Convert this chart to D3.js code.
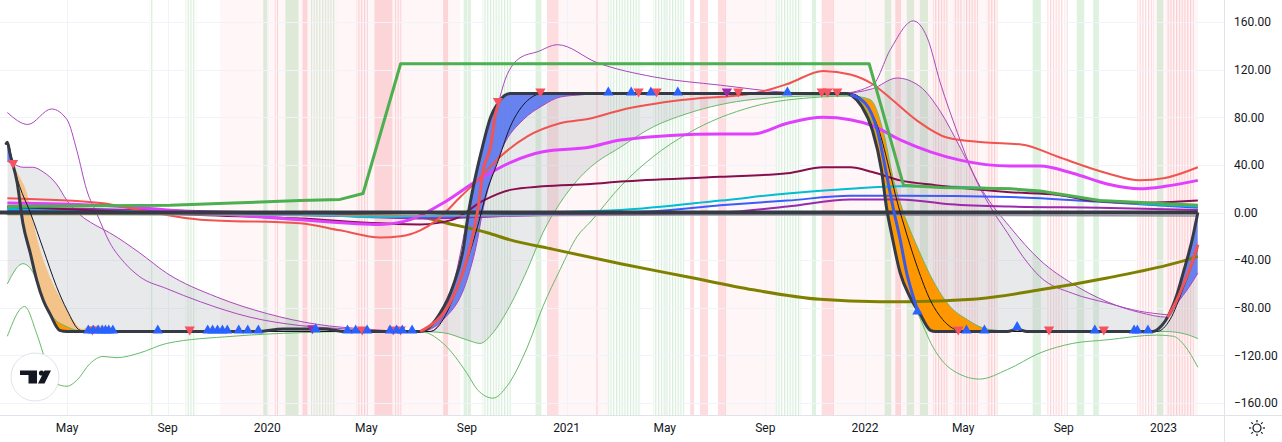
<!DOCTYPE html>
<html lang="en">
<head>
<meta charset="UTF-8">
<title>Oscillator</title>
<script src="https://d3js.org/d3.v7.min.js"></script>
<style>
  html, body { margin: 0; padding: 0; background: #fff; overflow: hidden; }
  svg { display: block; font-family: Roboto, "Liberation Sans", sans-serif; }
</style>
</head>
<body>
<div id="chart"></div>
<script>
// ---------- data ----------
const yTicks = [160, 120, 80, 40, 0, -40, -80, -120, -160];

const timeTicks = [
  ['2019-05-01', 'May'], ['2019-09-01', 'Sep'], ['2020-01-01', '2020'],
  ['2020-05-01', 'May'], ['2020-09-01', 'Sep'], ['2021-01-01', '2021'],
  ['2021-05-01', 'May'], ['2021-09-01', 'Sep'], ['2022-01-01', '2022'],
  ['2022-05-01', 'May'], ['2022-09-01', 'Sep'], ['2023-01-01', '2023']
];

// background bar colouring: [from, to, kind]
// R strong red, r red hairlines, G strong green, g green hairlines, p faint pink
const stripeBands = [
  ['2019-08-10', '2019-08-15', 'g'], ['2019-09-23', '2019-10-06', 'g'],
  ['2019-11-04', '2020-08-24', 'p'], ['2019-12-27', '2020-01-02', 'G'],
  ['2020-01-10', '2020-01-14', 'r'], ['2020-01-23', '2020-02-08', 'G'],
  ['2020-02-13', '2020-02-19', 'R'], ['2020-02-23', '2020-03-25', 'g'],
  ['2020-04-19', '2020-05-03', 'r'], ['2020-05-11', '2020-06-02', 'R'],
  ['2020-06-04', '2020-06-13', 'r'], ['2020-08-03', '2020-08-09', 'R'],
  ['2020-08-28', '2020-09-06', 'G'], ['2020-09-20', '2020-10-25', 'g'],
  ['2020-11-24', '2020-12-01', 'G'], ['2020-12-08', '2020-12-22', 'R'],
  ['2020-12-22', '2021-02-20', 'p'], ['2021-02-06', '2021-02-09', 'r'],
  ['2021-02-20', '2021-04-02', 'g'], ['2021-04-17', '2021-05-25', 'g'],
  ['2021-06-01', '2021-06-06', 'R'], ['2021-06-13', '2021-06-23', 'R'],
  ['2021-07-05', '2021-07-15', 'R'], ['2021-07-14', '2021-09-13', 'p'],
  ['2021-09-13', '2021-10-15', 'g'], ['2021-10-28', '2021-11-02', 'G'],
  ['2021-11-09', '2021-11-24', 'R'], ['2021-11-23', '2022-06-12', 'p'],
  ['2022-01-25', '2022-02-02', 'G'], ['2022-02-07', '2022-02-14', 'R'],
  ['2022-02-21', '2022-03-02', 'G'], ['2022-03-09', '2022-03-19', 'G'],
  ['2022-03-25', '2022-04-12', 'r'], ['2022-04-19', '2022-05-19', 'r'],
  ['2022-05-30', '2022-06-12', 'r'], ['2022-07-25', '2022-08-04', 'G'],
  ['2022-08-12', '2022-09-06', 'r'], ['2022-09-17', '2022-09-26', 'G'],
  ['2022-10-07', '2022-10-14', 'G'], ['2022-11-30', '2022-12-20', 'r'],
  ['2022-12-19', '2023-02-12', 'p'], ['2022-12-24', '2023-01-01', 'G'],
  ['2023-01-05', '2023-02-07', 'r']
];

const mainLine = [
  ['2019-02-15', 57], ['2019-02-17', 59], ['2019-02-20', 50], ['2019-03-01', 25], ['2019-03-08', -9],
  ['2019-03-17', -34], ['2019-03-25', -57], ['2019-04-02', -74], ['2019-04-10', -85], ['2019-04-22', -99],
  ['2019-05-01', -100], ['2019-12-20', -100], ['2020-01-20', -98], ['2020-03-10', -98], ['2020-04-05', -100],
  ['2020-07-06', -100], ['2020-07-30', -85], ['2020-08-15', -62], ['2020-08-28', -29], ['2020-09-03', 0],
  ['2020-09-09', 22], ['2020-09-20', 55], ['2020-09-30', 80], ['2020-10-09', 92], ['2020-10-24', 100],
  ['2021-12-10', 100], ['2021-12-16', 98], ['2021-12-28', 89], ['2022-01-10', 69], ['2022-01-21', 36],
  ['2022-01-27', 5], ['2022-02-03', -20], ['2022-02-13', -51], ['2022-02-25', -71], ['2022-03-09', -85],
  ['2022-03-22', -99], ['2022-03-28', -100], ['2022-06-24', -100], ['2022-07-06', -98], ['2022-07-18', -100],
  ['2022-12-19', -100], ['2022-12-27', -97], ['2023-01-09', -84], ['2023-01-17', -70], ['2023-01-25', -51],
  ['2023-02-05', -23], ['2023-02-12', 0]
];

const fastLine = [
  ['2019-02-15', 57], ['2019-02-17', 59], ['2019-02-24', 40], ['2019-03-04', 22], ['2019-03-17', 0],
  ['2019-04-02', -31], ['2019-04-18', -62], ['2019-05-01', -82], ['2019-05-17', -99], ['2019-05-29', -100],
  ['2020-07-18', -100], ['2020-08-24', -57], ['2020-09-14', -12], ['2020-09-26', 19], ['2020-10-08', 41],
  ['2020-10-24', 72], ['2020-11-14', 94], ['2020-12-03', 100], ['2021-12-14', 100], ['2022-01-13', 78],
  ['2022-02-13', 0], ['2022-03-06', -46], ['2022-03-22', -74], ['2022-04-06', -90], ['2022-04-24', -99],
  ['2022-05-04', -100], ['2022-12-24', -100], ['2023-01-09', -90], ['2023-01-25', -64], ['2023-02-12', -30]
];

const riseSignal2020 = [
  ['2020-07-06', -100], ['2020-08-15', -71], ['2020-09-05', -29], ['2020-09-15', 5], ['2020-09-21', 36],
  ['2020-09-30', 55], ['2020-10-06', 83], ['2020-10-09', 90]
];
const riseSignal2023 = [
  ['2023-01-06', -88], ['2023-01-17', -74], ['2023-01-27', -58], ['2023-02-04', -44], ['2023-02-12', -27]
];
const fallSignal2022 = [
  ['2021-12-14', 99], ['2022-01-01', 92], ['2022-01-16', 69], ['2022-01-27', 33], ['2022-02-04', 5],
  ['2022-02-13', -23], ['2022-02-21', -51], ['2022-03-01', -71], ['2022-03-07', -84]
];

// 2019 lagging edge of the light orange fill
const tanEdge = [
  ['2019-02-24', 40], ['2019-03-04', 30], ['2019-03-13', 16], ['2019-03-20', -6], ['2019-03-29', -31],
  ['2019-04-10', -54], ['2019-04-26', -76], ['2019-05-08', -90], ['2019-05-20', -98], ['2019-05-26', -96],
  ['2019-06-10', -95], ['2019-06-25', -99], ['2019-07-05', -100]
];

// envelopes: outer upper, inner upper (purple), inner lower, outer lower (green)
const envOuterUp = [
  ['2019-02-17', 84], ['2019-03-14', 74], ['2019-04-12', 87], ['2019-05-01', 78], ['2019-05-13', 52],
  ['2019-05-25', 19], ['2019-06-07', -2], ['2019-06-22', -25], ['2019-07-10', -42], ['2019-07-29', -54],
  ['2019-08-31', -64], ['2019-10-11', -75], ['2019-12-11', -88], ['2020-02-10', -95], ['2020-04-11', -98],
  ['2020-06-12', -100], ['2020-07-18', -100], ['2020-08-15', -62], ['2020-09-03', 0], ['2020-09-30', 80],
  ['2020-10-09', 92], ['2020-10-18', 112], ['2020-11-05', 130], ['2020-11-26', 135], ['2020-12-21', 141],
  ['2021-02-07', 126], ['2021-04-17', 114], ['2021-07-08', 107], ['2021-09-28', 101], ['2021-12-01', 100],
  ['2022-01-10', 107], ['2022-02-01', 137], ['2022-03-01', 161], ['2022-03-18', 147], ['2022-04-03', 109],
  ['2022-04-24', 67], ['2022-05-13', 33], ['2022-06-03', 5], ['2022-06-24', -17], ['2022-07-13', -37],
  ['2022-08-03', -54], ['2022-09-12', -68], ['2022-10-24', -76], ['2022-12-03', -83], ['2023-01-06', -86]
];
const envInnerUp = [
  ['2019-02-17', 43], ['2019-02-24', 41], ['2019-03-08', 38], ['2019-03-20', 38], ['2019-04-02', 34],
  ['2019-04-18', 24], ['2019-05-01', 10], ['2019-05-17', -2], ['2019-06-03', -10], ['2019-06-22', -17],
  ['2019-07-29', -34], ['2019-08-31', -51], ['2019-10-31', -71], ['2020-01-01', -85], ['2020-03-02', -94],
  ['2020-05-02', -98], ['2020-06-24', -100], ['2020-07-06', -100], ['2020-08-03', -90], ['2020-09-01', -57],
  ['2020-09-14', -23], ['2020-09-20', 0], ['2020-09-30', 27], ['2020-10-15', 55], ['2020-11-09', 78],
  ['2020-12-03', 90], ['2020-12-24', 97], ['2021-01-21', 99], ['2021-02-11', 100], ['2021-12-01', 100],
  ['2022-01-10', 104], ['2022-02-09', 113], ['2022-03-09', 106], ['2022-04-03', 85], ['2022-04-27', 55],
  ['2022-05-25', 18], ['2022-06-27', -12], ['2022-08-03', -40], ['2022-09-12', -60], ['2022-10-24', -75],
  ['2022-12-03', -84], ['2023-01-06', -88], ['2023-01-17', -77], ['2023-02-02', -62], ['2023-02-12', -51]
];
const envInnerLow = [
  ['2019-02-17', -60], ['2019-03-08', -43], ['2019-03-25', -57], ['2019-04-02', -74], ['2019-04-14', -88],
  ['2019-05-01', -96], ['2019-05-13', -99], ['2019-05-29', -100], ['2020-07-06', -100], ['2020-08-03', -101],
  ['2020-09-01', -107], ['2020-09-17', -110], ['2020-10-03', -101], ['2020-10-20', -83], ['2020-11-14', -48],
  ['2020-12-03', -17], ['2020-12-24', 8], ['2021-01-14', 27], ['2021-01-30', 38], ['2021-03-08', 55],
  ['2021-04-17', 72], ['2021-05-28', 83], ['2021-08-17', 95], ['2021-11-07', 98], ['2021-12-14', 98],
  ['2022-01-07', 95], ['2022-01-23', 69], ['2022-02-04', 30], ['2022-02-17', 0], ['2022-03-06', -29],
  ['2022-03-25', -57], ['2022-04-15', -79], ['2022-05-06', -90], ['2022-05-25', -97], ['2022-06-11', -99],
  ['2022-06-27', -100], ['2023-01-03', -100], ['2023-01-27', -102], ['2023-02-12', -106]
];
const envOuterLow = [
  ['2019-02-17', -104], ['2019-03-10', -79], ['2019-03-25', -102], ['2019-04-06', -127], ['2019-04-18', -144],
  ['2019-05-01', -146], ['2019-05-13', -141], ['2019-05-29', -127], ['2019-06-14', -121], ['2019-07-01', -122],
  ['2019-07-29', -118], ['2019-08-31', -110], ['2019-11-20', -104], ['2020-02-10', -101], ['2020-04-11', -100],
  ['2020-07-06', -100], ['2020-08-03', -110], ['2020-09-01', -135], ['2020-09-14', -149], ['2020-10-03', -156],
  ['2020-10-20', -146], ['2020-11-14', -113], ['2020-12-03', -79], ['2020-12-24', -48], ['2021-01-14', -20],
  ['2021-01-30', -8], ['2021-03-08', 22], ['2021-04-17', 47], ['2021-05-28', 66], ['2021-08-17', 89],
  ['2021-11-07', 97], ['2021-12-14', 98], ['2022-01-07', 80], ['2022-01-21', 38], ['2022-02-03', -18],
  ['2022-02-13', -50], ['2022-02-25', -71], ['2022-03-06', -84], ['2022-03-25', -113], ['2022-04-15', -131],
  ['2022-05-21', -140], ['2022-06-24', -132], ['2022-08-03', -118], ['2022-09-12', -110], ['2022-10-24', -107],
  ['2022-12-24', -103], ['2023-01-13', -104], ['2023-01-27', -112], ['2023-02-12', -130]
];

const redLine = [
  ['2019-02-17', 12], ['2019-06-11', 8], ['2019-07-29', 2], ['2019-10-11', -6], ['2020-02-10', -9],
  ['2020-03-30', -15], ['2020-05-18', -21], ['2020-06-12', -20], ['2020-07-06', -15], ['2020-07-27', -6],
  ['2020-08-24', 13], ['2020-09-14', 27], ['2020-10-12', 47], ['2020-11-14', 64], ['2020-12-24', 75],
  ['2021-01-30', 79], ['2021-03-08', 86], ['2021-05-28', 95], ['2021-08-17', 100], ['2021-09-28', 108],
  ['2021-11-11', 119], ['2021-12-14', 116], ['2022-01-10', 108], ['2022-02-01', 96], ['2022-03-06', 77],
  ['2022-04-11', 63], ['2022-05-25', 59], ['2022-07-13', 57], ['2022-08-24', 47], ['2022-10-24', 33],
  ['2022-12-03', 27], ['2023-01-03', 29], ['2023-02-12', 38]
];
const magentaLine = [
  ['2019-02-17', 8], ['2019-06-11', 6], ['2019-10-11', 0], ['2020-02-10', -6], ['2020-05-18', -10],
  ['2020-06-24', -6], ['2020-08-03', 8], ['2020-09-14', 27], ['2020-10-24', 42], ['2020-12-03', 51],
  ['2021-01-30', 55], ['2021-03-08', 61], ['2021-07-08', 66], ['2021-08-17', 66], ['2021-09-28', 75],
  ['2021-11-11', 80], ['2021-12-14', 78], ['2022-01-10', 73], ['2022-02-13', 61], ['2022-03-22', 51],
  ['2022-04-27', 44], ['2022-06-27', 39], ['2022-08-03', 39], ['2022-09-12', 33], ['2022-10-24', 24],
  ['2022-12-03', 20], ['2023-01-03', 22], ['2023-02-12', 27]
];
const maroonLine = [
  ['2019-02-17', 5], ['2019-10-11', -2], ['2020-02-10', -5], ['2020-05-18', -9], ['2020-07-06', -10],
  ['2020-08-15', -6], ['2020-09-21', 10], ['2020-10-24', 19], ['2020-12-03', 22], ['2021-01-30', 24],
  ['2021-03-08', 26], ['2021-07-08', 30], ['2021-09-28', 33], ['2021-11-11', 38], ['2021-12-14', 38],
  ['2022-01-10', 34], ['2022-02-13', 27], ['2022-03-28', 23], ['2022-06-27', 17], ['2022-08-24', 15],
  ['2022-10-03', 10], ['2022-12-03', 8], ['2023-02-12', 10]
];
const cyanLine = [
  ['2019-02-17', 3], ['2019-10-11', 0], ['2020-02-10', -1], ['2020-05-18', -4], ['2020-07-06', -3],
  ['2020-09-17', -1], ['2020-11-30', 0], ['2021-03-08', 2], ['2021-07-08', 10], ['2021-09-28', 16],
  ['2021-12-14', 20], ['2022-02-13', 22], ['2022-06-27', 20], ['2022-08-03', 17], ['2022-10-15', 10],
  ['2023-02-12', 5]
];
const blueLine = [
  ['2019-02-17', 2], ['2020-02-10', -2], ['2020-07-06', -4], ['2020-11-30', -1], ['2021-04-17', 1],
  ['2021-07-08', 6], ['2021-09-28', 10], ['2021-12-14', 14], ['2022-02-13', 14], ['2022-06-27', 13],
  ['2022-10-15', 9], ['2023-02-12', 4]
];
const purpleLine = [
  ['2019-02-17', 4], ['2020-02-10', -1], ['2020-07-06', -5], ['2020-11-30', -2], ['2021-07-08', 0],
  ['2021-09-28', 5], ['2021-12-14', 11], ['2022-02-13', 11], ['2022-04-15', 7], ['2022-06-27', 5],
  ['2022-10-15', 4], ['2023-02-12', 2]
];
const greenLine = [
  ['2019-02-17', 5], ['2019-09-04', 6], ['2019-11-20', 8], ['2020-02-10', 10], ['2020-03-30', 11],
  ['2020-04-27', 16], ['2020-06-12', 125], ['2022-01-06', 125], ['2022-02-17', 23], ['2022-04-03', 21],
  ['2022-06-27', 20], ['2022-08-03', 18], ['2022-10-15', 10], ['2023-02-12', 6]
];
const oliveLine = [
  ['2019-02-17', -1], ['2019-10-11', -1], ['2020-05-18', -3], ['2020-07-06', -4], ['2020-08-08', -9],
  ['2020-09-26', -17], ['2020-10-24', -23], ['2020-12-16', -31], ['2021-03-08', -43], ['2021-05-28', -54],
  ['2021-08-17', -65], ['2021-11-07', -73], ['2022-01-19', -75], ['2022-02-21', -75], ['2022-05-13', -73],
  ['2022-08-03', -65], ['2022-10-24', -55], ['2023-01-13', -43], ['2023-02-12', -37]
];
const grayLine = [
  ['2019-02-15', -1], ['2020-07-06', -3], ['2021-06-01', -2], ['2023-02-12', -3]
];
const zeroLine = [['2019-02-08', 0], ['2023-02-12', 0]];

const buyMarks = [
  ['2019-05-27', -100], ['2019-06-02', -100], ['2019-06-08', -100], ['2019-06-13', -100], ['2019-06-17', -100],
  ['2019-06-21', -100], ['2019-06-26', -100], ['2019-08-20', -100], ['2019-10-20', -100], ['2019-10-26', -100],
  ['2019-11-01', -100], ['2019-11-07', -100], ['2019-11-13', -100], ['2019-11-27', -100], ['2019-12-08', -100],
  ['2019-12-21', -100], ['2020-02-29', -99], ['2020-04-08', -100], ['2020-04-18', -100], ['2020-05-02', -100],
  ['2020-05-30', -100], ['2020-06-07', -100], ['2020-06-14', -100], ['2020-06-26', -100], ['2021-02-21', 100],
  ['2021-03-21', 100], ['2021-04-14', 100], ['2021-05-17', 100], ['2021-09-28', 100], ['2022-03-06', -84],
  ['2022-05-05', -100], ['2022-05-27', -100], ['2022-07-06', -97], ['2022-10-09', -100], ['2022-11-26', -100],
  ['2022-11-30', -100], ['2022-12-13', -100]
];
const sellMarks = [
  ['2019-02-24', 40], ['2019-06-01', -100], ['2019-09-28', -100], ['2020-04-26', -100], ['2020-06-03', -100],
  ['2020-06-12', -100], ['2020-10-09', 92], ['2020-11-30', 100], ['2021-03-30', 100], ['2021-04-21', 100],
  ['2021-07-30', 100], ['2021-11-09', 100], ['2021-11-16', 100], ['2021-11-28', 100], ['2022-04-25', -100],
  ['2022-08-14', -100], ['2022-10-20', -100]
];
const purpleMarks = [['2020-02-25', -99], ['2021-07-16', 100]];

// ---------- drawing ----------
const W = 1282, H = 442, paneW = 1224, paneH = 415;
const parse = d3.timeParse('%Y-%m-%d');

const x = d3.scaleTime()
  .domain([parse('2019-02-08'), parse('2023-03-16')])
  .range([0, paneW]);
const y = d3.scaleLinear().domain([-160, 160]).range([402.9, 22.1]);

const pts = arr => arr.map(([d, v]) => ({ t: parse(d), v }));

const svg = d3.select('#chart').append('svg')
  .attr('width', W).attr('height', H);
const defs = svg.append('defs');

defs.append('clipPath').attr('id', 'pane-clip')
  .append('rect').attr('width', paneW).attr('height', paneH);

const hairline = (id, color) => {
  const p = defs.append('pattern').attr('id', id)
    .attr('patternUnits', 'userSpaceOnUse').attr('width', 2.8).attr('height', 10);
  p.append('rect').attr('width', 1.2).attr('height', 10).attr('fill', color);
};
hairline('pat-r', 'rgba(242,54,69,0.22)');
hairline('pat-g', 'rgba(76,175,80,0.22)');

const bandFill = {
  R: 'rgba(242,54,69,0.17)', r: 'url(#pat-r)',
  G: 'rgba(76,175,80,0.18)', g: 'url(#pat-g)',
  p: 'rgba(242,54,69,0.045)'
};

const pane = svg.append('g').attr('clip-path', 'url(#pane-clip)');

pane.selectAll('rect.band').data(stripeBands).join('rect')
  .attr('class', 'band')
  .attr('x', d => x(parse(d[0])))
  .attr('width', d => Math.max(1, x(parse(d[1])) - x(parse(d[0]))))
  .attr('y', 0).attr('height', paneH)
  .attr('fill', d => bandFill[d[2]]);

// grid
pane.selectAll('line.hg').data(yTicks).join('line')
  .attr('x1', 0).attr('x2', paneW)
  .attr('y1', d => Math.round(y(d)) + 0.5).attr('y2', d => Math.round(y(d)) + 0.5)
  .attr('stroke', '#f0f3fa');
pane.selectAll('line.vg').data(timeTicks).join('line')
  .attr('x1', d => Math.round(x(parse(d[0]))) + 0.5).attr('x2', d => Math.round(x(parse(d[0]))) + 0.5)
  .attr('y1', 0).attr('y2', paneH)
  .attr('stroke', '#f0f3fa');

// region helpers
const mono = d3.curveMonotoneX;
const below = s => d3.area().x(d => x(d.t)).y0(paneH).y1(d => y(d.v)).curve(mono)(pts(s));
const above = s => d3.area().x(d => x(d.t)).y0(0).y1(d => y(d.v)).curve(mono)(pts(s));

let clipCount = 0;
// fill where lower < value < upper
function between(lower, upper, color, opacity) {
  const id = 'fc' + (clipCount++);
  defs.append('clipPath').attr('id', id).append('path').attr('d', above(lower));
  pane.append('path')
    .attr('d', below(upper))
    .attr('clip-path', `url(#${id})`)
    .attr('fill', color)
    .attr('opacity', opacity);
}

between(envInnerLow, envInnerUp, '#b2b5be', 0.3);
between(envInnerUp, envInnerLow, '#b2b5be', 0.3);
between(mainLine, tanEdge, '#f4bf80', 0.9);
between(mainLine, envInnerLow, '#ff9800', 1);
between(envInnerUp, mainLine, '#5b78ee', 0.92);

function drawLine(series, color, width, curve) {
  pane.append('path')
    .datum(pts(series))
    .attr('fill', 'none')
    .attr('stroke', color)
    .attr('stroke-width', width)
    .attr('stroke-linejoin', 'round')
    .attr('d', d3.line().x(d => x(d.t)).y(d => y(d.v)).curve(curve || mono));
}

drawLine(envOuterUp, '#ab47bc', 1);
drawLine(envInnerUp, '#ab47bc', 1);
drawLine(envInnerLow, '#66bb6a', 1);
drawLine(envOuterLow, '#66bb6a', 1);

drawLine(oliveLine, '#808000', 3);
drawLine(purpleLine, '#9c27b0', 2);
drawLine(blueLine, '#3d5afe', 2);
drawLine(cyanLine, '#00bcd4', 2);
drawLine(maroonLine, '#880e4f', 2);
drawLine(magentaLine, '#e040fb', 3);
drawLine(redLine, '#f05350', 2);
drawLine(greenLine, '#4caf50', 3, d3.curveLinear);

drawLine(grayLine, '#9598a1', 1.5);
drawLine(zeroLine, '#363a45', 4, d3.curveLinear);

drawLine(fastLine, '#131722', 1);
drawLine(mainLine, '#363a45', 3);
drawLine(riseSignal2020, '#f05454', 3);
drawLine(riseSignal2023, '#f05454', 3);
drawLine(fallSignal2022, '#3a5ae8', 3);

// signal markers
const tri = d3.symbol(d3.symbolTriangle, 46);
function marks(list, color, down) {
  pane.selectAll(null).data(pts(list)).join('path')
    .attr('d', tri)
    .attr('fill', color)
    .attr('transform', d => down
      ? `translate(${x(d.t)},${y(d.v) - 2}) rotate(180)`
      : `translate(${x(d.t)},${y(d.v) - 1})`);
}
marks(sellMarks, '#f7525f', true);
marks(purpleMarks, '#9c27b0', true);
marks(buyMarks, '#2962ff', false);

// TradingView badge
const badge = svg.append('g').attr('transform', 'translate(35,377)');
badge.append('circle').attr('r', 24).attr('fill', '#fff').attr('stroke', '#e0e3eb');
badge.append('path')
  .attr('d', 'M-15,-6.5 H2 V6.5 H-6.5 V-2 H-15 Z')
  .attr('fill', '#131722');
badge.append('circle').attr('cx', 6.5).attr('cy', -4).attr('r', 2.6).attr('fill', '#131722');
badge.append('path')
  .attr('d', 'M9.5,-6.5 H16 L9.5,6.5 H3 Z')
  .attr('fill', '#131722');

// axes frame
svg.append('line').attr('x1', paneW + 0.5).attr('x2', paneW + 0.5)
  .attr('y1', 0).attr('y2', H).attr('stroke', '#e0e3eb');
svg.append('line').attr('x1', 0).attr('x2', W)
  .attr('y1', paneH + 0.5).attr('y2', paneH + 0.5).attr('stroke', '#e0e3eb');

const fmt = d3.format('.2f');
svg.selectAll('text.yl').data(yTicks).join('text')
  .attr('x', 1234).attr('y', d => y(d)).attr('dy', '0.35em')
  .attr('font-size', 12).attr('fill', '#131722')
  .text(d => fmt(d).replace('-', '\u2212'));

svg.selectAll('text.xl').data(timeTicks).join('text')
  .attr('x', d => x(parse(d[0]))).attr('y', 432)
  .attr('text-anchor', 'middle')
  .attr('font-size', 12).attr('fill', '#131722')
  .text(d => d[1]);

// settings (sun) icon
const gear = svg.append('g').attr('transform', 'translate(1257,428)')
  .attr('stroke', '#131722').attr('stroke-width', 1.2).attr('fill', 'none');
gear.append('circle').attr('r', 4);
d3.range(8).forEach(i => {
  const a = i * Math.PI / 4;
  gear.append('line')
    .attr('x1', Math.cos(a) * 5.8).attr('y1', Math.sin(a) * 5.8)
    .attr('x2', Math.cos(a) * 8).attr('y2', Math.sin(a) * 8);
});
</script>
</body>
</html>
